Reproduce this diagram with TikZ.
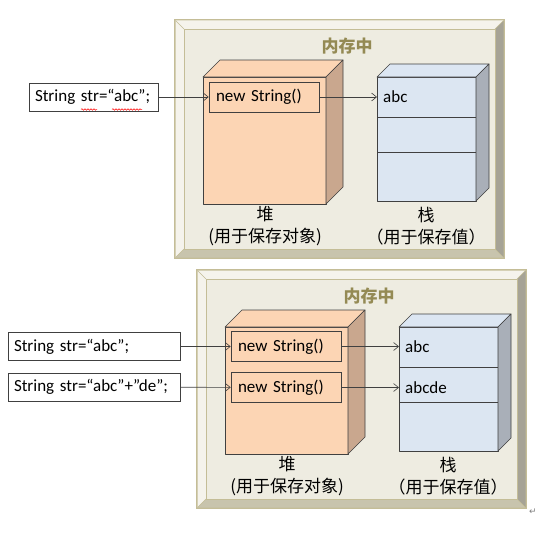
\documentclass[tikz,border=0pt]{standalone}
\usepackage{fontspec}
\setmainfont{Carlito}
\newfontfamily\cjk{Noto Sans CJK SC}
\newfontfamily\symb{DejaVu Sans}
\usetikzlibrary{arrows.meta, decorations.pathmorphing}
\definecolor{cFrame}    {HTML}{C4BD97}
\definecolor{cPanel}    {HTML}{EEECE1}
\definecolor{cLight}    {HTML}{F5F3EC}
\definecolor{cShade}    {HTML}{A6A396}
\definecolor{cShadeB}   {HTML}{C8C4AD}
\definecolor{cTitle}    {HTML}{948A54}
\definecolor{cHeap}     {HTML}{FCD5B4}
\definecolor{cHeapSide} {HTML}{C9A78E}
\definecolor{cStack}    {HTML}{DCE6F2}
\definecolor{cStackSide}{HTML}{A9AFB8}
\definecolor{cLine}     {HTML}{404040}

\begin{document}
\begin{tikzpicture}[x=1pt, y=-1pt,
      every node/.style = {font=\fontsize{17}{22}\selectfont},
      face/.style  = {draw=cLine, line width=0.6pt, line join=round},
      heap/.style  = {face, fill=cHeap, minimum width=123, minimum height=127, inner sep=0, outer sep=0},
      stk/.style   = {face, fill=cStack, minimum width=99, minimum height=124, inner sep=0, outer sep=0},
      code/.style  = {draw=cLine, line width=0.6pt, fill=white, inner xsep=6pt, inner ysep=0, minimum height=28, align=left},
      newbox/.style= {draw=cLine, line width=0.6pt, fill=cHeap, inner xsep=7pt, inner ysep=0, minimum height=30, text width=96pt, align=left},
      val/.style   = {anchor=west, inner xsep=6pt, inner ysep=0},
      lbl/.style   = {align=center, font=\cjk\fontsize{17}{22}\selectfont},
      title/.style = {text=cTitle, font=\cjk\bfseries\fontsize{17}{20}\selectfont},
      ar/.style    = {-{Straight Barb[length=5pt, width=8pt]}, draw=cLine, line width=0.6pt},
      squig/.style = {draw=red, line width=0.5pt, decorate, decoration={snake, amplitude=0.8pt, segment length=3pt}} ]
    \useasboundingbox (0,0) rectangle (537,535);

    % beveled frames of the two memory panels
    \foreach \dx/\dy in {0/0, 22/250} {
      \begin{scope}[shift={(\dx,\dy)}]
        \fill[cFrame] (174,19) rectangle (505,259);
        \fill[cLight]  (175.5,20.5) -- (503.5,20.5) -- (495,29) -- (184,29) -- cycle;
        \fill[cLight]  (175.5,20.5) -- (184,29) -- (184,249) -- (175.5,257.5) -- cycle;
        \fill[cShade]  (503.5,20.5) -- (503.5,257.5) -- (495,249) -- (495,29) -- cycle;
        \fill[cShadeB] (175.5,257.5) -- (503.5,257.5) -- (495,249) -- (184,249) -- cycle;
        \draw[cFrame, line width=0.5pt] (175.5,20.5) -- (184,29) (503.5,20.5) -- (495,29)
             (175.5,257.5) -- (184,249) (503.5,257.5) -- (495,249);
        \draw[cFrame, line width=0.5pt, fill=cPanel] (184,29) rectangle (495,249);
      \end{scope}
    }

    % ---- upper panel
    \node[title] (mem1) at (347,46) {内存中};
    \node[heap] (heap1) at (264.5,140.5) {};
    \path (heap1.north east) ++(17,-17) coordinate (heap1ne)
          (heap1.south east) ++(17,-17) coordinate (heap1se);
    \draw[face, fill=cHeap] (heap1.north west) -- ++(17,-17) -- (heap1ne) -- (heap1.north east) -- cycle;
    \draw[face, fill=cHeapSide] (heap1.north east) -- (heap1ne) -- (heap1se) -- (heap1.south east) -- cycle;
    \node[stk] (stack1) at (426.5,139) {};
    \path (stack1.north east) ++(13,-13) coordinate (stack1ne)
          (stack1.south east) ++(13,-13) coordinate (stack1se);
    \draw[face, fill=cStack] (stack1.north west) -- ++(13,-13) -- (stack1ne) -- (stack1.north east) -- cycle;
    \draw[face, fill=cStackSide] (stack1.north east) -- (stack1ne) -- (stack1se) -- (stack1.south east) -- cycle;
    \draw[face] (stack1.west |- 0,117) -- (stack1.east |- 0,117)
                (stack1.west |- 0,152) -- (stack1.east |- 0,152);
    \node[lbl] (heapLbl1)  at (265,226) {堆\\(用于保存对象)};
    \node[lbl] (stackLbl1) at (426,226) {栈\\（用于保存值）};

    \node[code, text width=117pt] (code1) at (93.5,97) {String str=“abc”;};
    \node[newbox] (new1) at (264,97) {new String()};
    \node[val] (abc1) at (stack1.west |- new1) {abc};
    \draw[ar] (code1) -- (new1);
    \draw[ar] (new1) -- (abc1.west);
    \draw[squig] (81,109.5) -- (97,109.5);
    \draw[squig] (112,109.5) -- (142,109.5);

    % ---- lower panel
    \node[title] (mem2) at (369,296) {内存中};
    \node[heap] (heap2) at (286.5,390.5) {};
    \path (heap2.north east) ++(17,-17) coordinate (heap2ne)
          (heap2.south east) ++(17,-17) coordinate (heap2se);
    \draw[face, fill=cHeap] (heap2.north west) -- ++(17,-17) -- (heap2ne) -- (heap2.north east) -- cycle;
    \draw[face, fill=cHeapSide] (heap2.north east) -- (heap2ne) -- (heap2se) -- (heap2.south east) -- cycle;
    \node[stk] (stack2) at (448.5,389) {};
    \path (stack2.north east) ++(13,-13) coordinate (stack2ne)
          (stack2.south east) ++(13,-13) coordinate (stack2se);
    \draw[face, fill=cStack] (stack2.north west) -- ++(13,-13) -- (stack2ne) -- (stack2.north east) -- cycle;
    \draw[face, fill=cStackSide] (stack2.north east) -- (stack2ne) -- (stack2se) -- (stack2.south east) -- cycle;
    \draw[face] (stack2.west |- 0,367) -- (stack2.east |- 0,367)
                (stack2.west |- 0,402) -- (stack2.east |- 0,402);
    \node[lbl] (heapLbl2)  at (287,476) {堆\\(用于保存对象)};
    \node[lbl] (stackLbl2) at (448,476) {栈\\（用于保存值）};

    \node[code, text width=160pt] (code2) at (94,346.5) {String str=“abc”;};
    \node[code, text width=160pt] (code3) at (94,387) {String str=“abc”+”de”;};
    \node[newbox] (new2) at (286,346.5) {new String()};
    \node[newbox] (new3) at (286,387.5) {new String()};
    \node[val] (abc2)   at (stack2.west |- new2) {abc};
    \node[val] (abcde2) at (stack2.west |- new3) {abcde};
    \draw[ar] (code2) -- (new2);
    \draw[ar] (code3) -- (new3);
    \draw[ar] (new2) -- (abc2.west);
    \draw[ar] (new3) -- (abcde2.west);

    \node[text=gray, font=\symb\fontsize{9}{9}\selectfont] (ret) at (533,512) {↵};
  \end{tikzpicture}
\end{document}
